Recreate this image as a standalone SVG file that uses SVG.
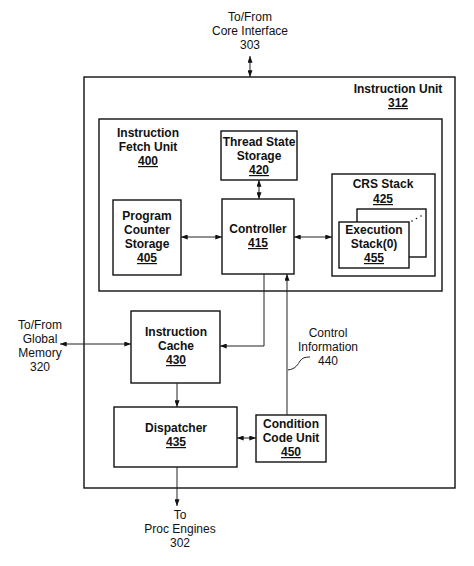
<svg xmlns="http://www.w3.org/2000/svg" width="474" height="566" viewBox="0 0 474 566">
<style>
.box{fill:none;stroke:#111;stroke-width:1.4}
.wbox{fill:#fff;stroke:#111;stroke-width:1.4}
.ln{fill:none;stroke:#222;stroke-width:1}
.b{font-family:"Liberation Sans",Arial,sans-serif;font-weight:bold;font-size:12px;fill:#111;text-anchor:middle}
.r{font-family:"Liberation Sans",Arial,sans-serif;font-size:12px;fill:#111;text-anchor:middle}
.u{text-decoration:underline}
</style>
<defs>
<marker id="ah" viewBox="0 0 8 6" refX="8" refY="3" markerWidth="7" markerHeight="5" markerUnits="userSpaceOnUse" orient="auto-start-reverse">
<path d="M0,0 L8,3 L0,6 Z" fill="#111"/>
</marker>
</defs>
<rect width="474" height="566" fill="#fff"/>

<g id="labels-external">
<text class="r" x="250" y="21">To/From</text>
<text class="r" x="250" y="35">Core Interface</text>
<text class="r" x="250" y="49">303</text>
<text class="r" x="40" y="329">To/From</text>
<text class="r" x="40" y="343">Global</text>
<text class="r" x="40" y="357">Memory</text>
<text class="r" x="40" y="371">320</text>
<text class="r" x="180" y="519">To</text>
<text class="r" x="180" y="533">Proc Engines</text>
<text class="r" x="180" y="547">302</text>
<text class="r" x="328" y="337">Control</text>
<text class="r" x="328" y="351">Information</text>
<text class="r" x="328" y="365">440</text>
</g>

<g id="instruction-unit">
<rect class="box" x="84" y="77" width="371" height="411"/>
<text class="b" x="398" y="93">Instruction Unit</text>
<text class="b u" x="398" y="107">312</text>
</g>

<g id="fetch-unit">
<rect class="box" x="99" y="119" width="343" height="172"/>
<text class="b" x="148" y="137">Instruction</text>
<text class="b" x="148" y="151">Fetch Unit</text>
<text class="b u" x="148" y="165">400</text>
</g>

<g id="thread-state">
<rect class="box" x="221" y="131" width="76" height="49"/>
<text class="b" x="259" y="146">Thread State</text>
<text class="b" x="259" y="160">Storage</text>
<text class="b u" x="259" y="174">420</text>
</g>

<g id="program-counter">
<rect class="box" x="113" y="200" width="68" height="75"/>
<text class="b" x="147" y="220">Program</text>
<text class="b" x="147" y="234">Counter</text>
<text class="b" x="147" y="248">Storage</text>
<text class="b u" x="147" y="262">405</text>
</g>

<g id="controller">
<rect class="box" x="222" y="199" width="72" height="75"/>
<text class="b" x="258" y="233">Controller</text>
<text class="b u" x="258" y="247">415</text>
</g>

<g id="crs-stack">
<rect class="box" x="332" y="174" width="103" height="102"/>
<text class="b" x="383" y="188">CRS Stack</text>
<text class="b u" x="383" y="203">425</text>
<rect class="wbox" x="357" y="209" width="69" height="48"/>
<circle cx="412" cy="221" r="0.8" fill="#111"/>
<circle cx="416.5" cy="218.5" r="0.8" fill="#111"/>
<circle cx="421" cy="216" r="0.8" fill="#111"/>
<g id="execution-stack">
<rect class="wbox" x="339" y="222" width="70" height="46"/>
<text class="b" x="374" y="234">Execution</text>
<text class="b" x="374" y="248">Stack(0)</text>
<text class="b u" x="374" y="262">455</text>
</g>
</g>

<g id="instruction-cache">
<rect class="box" x="131" y="311" width="89" height="72"/>
<text class="b" x="176" y="336">Instruction</text>
<text class="b" x="176" y="350">Cache</text>
<text class="b u" x="176" y="364">430</text>
</g>

<g id="dispatcher">
<rect class="box" x="114" y="407" width="123" height="60"/>
<text class="b" x="176" y="432">Dispatcher</text>
<text class="b u" x="176" y="446">435</text>
</g>

<g id="condition-code-unit">
<rect class="box" x="256" y="415" width="70" height="47"/>
<text class="b" x="291" y="428">Condition</text>
<text class="b" x="291" y="442">Code Unit</text>
<text class="b u" x="291" y="456">450</text>
</g>

<g id="connectors">
<line class="ln" x1="250" y1="56" x2="250" y2="77" marker-start="url(#ah)" marker-end="url(#ah)"/>
<line class="ln" x1="259" y1="180" x2="259" y2="199" marker-start="url(#ah)" marker-end="url(#ah)"/>
<line class="ln" x1="181" y1="237" x2="222" y2="237" marker-start="url(#ah)" marker-end="url(#ah)"/>
<line class="ln" x1="294" y1="237" x2="332" y2="237" stroke="#555" marker-start="url(#ah)" marker-end="url(#ah)"/>
<polyline class="ln" points="264,274 264,346 220,346" marker-end="url(#ah)"/>
<line class="ln" x1="287" y1="415" x2="287" y2="274" marker-end="url(#ah)"/>
<line class="ln" x1="60" y1="344" x2="131" y2="344" marker-start="url(#ah)" marker-end="url(#ah)"/>
<line class="ln" x1="177" y1="383" x2="177" y2="407" marker-end="url(#ah)"/>
<line class="ln" x1="237" y1="438" x2="256" y2="438" marker-start="url(#ah)" marker-end="url(#ah)"/>
<line class="ln" x1="177" y1="467" x2="177" y2="506" marker-end="url(#ah)"/>
<path class="ln" d="M288,370 C296,369 298,364 300,361 C302,358 305,357 310,357" stroke-width="0.8"/>
</g>
</svg>
